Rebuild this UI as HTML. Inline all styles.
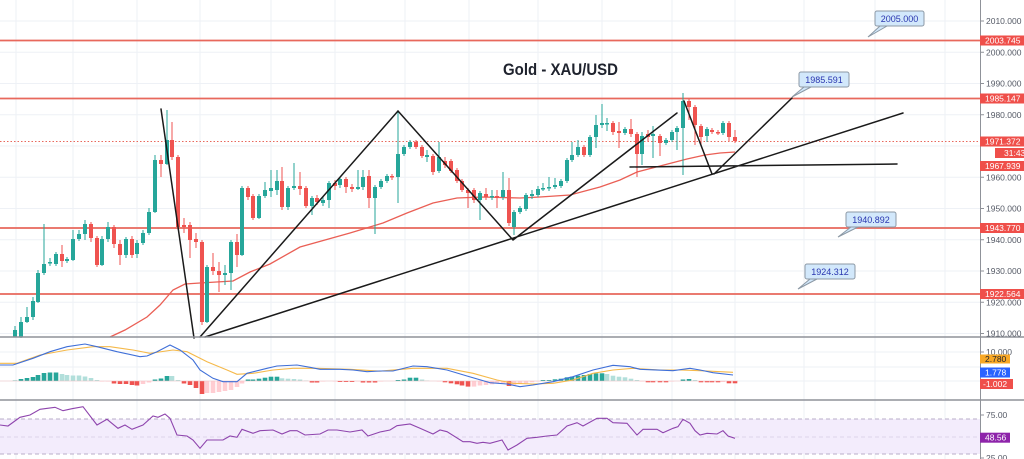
<!DOCTYPE html>
<html><head><meta charset="utf-8"><style>
html,body{margin:0;padding:0;background:#fff;}
body{width:1024px;height:459px;overflow:hidden;}
svg{display:block;font-family:"Liberation Sans",sans-serif;}
</style></head><body>
<svg width="1024" height="459" viewBox="0 0 1024 459" xmlns="http://www.w3.org/2000/svg">
<rect width="1024" height="459" fill="#fff"/>
<!-- grid -->
<g stroke="#eef1f6" stroke-width="1">
<path d="M16 0V459M73 0V459M137 0V459M200 0V459M271 0V459M335 0V459M405 0V459M469 0V459M538 0V459M602 0V459M672 0V459M735 0V459M804 0V459M875 0V459M945 0V459"/>
<path d="M0 21H980M0 52.3H980M0 83.5H980M0 114.8H980M0 146H980M0 177.3H980M0 208.5H980M0 239.8H980M0 271H980M0 302.3H980M0 333.5H980M0 352H980M0 367H980M0 381H980"/>
</g>
<!-- RSI band -->
<rect x="0" y="419" width="980" height="35" fill="#f3ecfc"/>
<g stroke="#b9aec8" stroke-width="1" stroke-dasharray="4 3">
<path d="M0 419H980M0 454H980"/>
</g>
<path d="M0 437H980" stroke="#ddd3ea" stroke-width="1" stroke-dasharray="4 3"/>

<!-- horizontal level lines -->
<g stroke="#e8685c" stroke-width="1.8">
<path d="M0 40.5H980M0 98.5H980M0 228H980M0 294H980"/>
</g>
<path d="M0 141.5H980" stroke="#e8685c" stroke-width="1" stroke-dasharray="1.5 2"/>

<!-- MA -->
<polyline fill="none" stroke="#ea5f55" stroke-width="1.3" points="110,337 125,330 147,317 160,305 173,290 185,284 200,283 233,281 250,272 270,264 300,247 350,233 383,223 407,213 433,203 457,198 483,197 520,198 540,197 570,195 600,187 620,180 637,172 660,166 687,159 705,155 720,153 735,152"/>

<!-- candles green -->
<path fill="none" stroke="#26a69a" stroke-width="1" d="M15 326V337M21 317V338M27 307V323M33 297V320M38 270V303M44 224V275M50 258V266M56 252V266M67 257V263M73 230V261M79 230V241M85 220V240M102 236V266M108 222V242M126 237V258M137 240V258M143 230V245M149 208V235M155 155V213M167 110V165M207 265V323M225 265V285M231 240V290M242 186V256M259 194V219M265 182V198M271 170V197M277 170V195M288 186V210M294 163V190M312 196V215M323 197V206M329 181V208M340 177V188M358 170V190M363 170V190M375 185V234M381 179V189M387 174V183M398 112V203M404 145V156M410 140V149M427 150V162M439 142V173M480 191V220M492 190V200M503 172V200M514 210V235M520 206V214M526 193V211M532 190V199M538 186V197M543 183V191M549 177V191M555 178V189M561 179V188M567 158V183M572 142V162M578 140V157M590 135V157M596 115V148M602 104V128M607 118V131M625 127V135M642 132V165M653 126V158M666 138V145M672 130V142M677 126V150M683 93V175M707 127V142M723 121V135"/>
<g fill="#26a69a">
<rect x="13" y="330" width="4" height="7"/><rect x="19" y="322" width="4" height="15"/><rect x="25" y="317" width="4" height="5"/><rect x="31" y="301" width="4" height="16"/><rect x="36" y="273" width="4" height="29"/><rect x="42" y="264" width="4" height="9"/><rect x="48" y="262" width="4" height="1.5"/><rect x="54" y="254" width="4" height="10"/><rect x="65" y="259" width="4" height="2"/><rect x="71" y="239" width="4" height="21"/><rect x="77" y="234" width="4" height="5"/><rect x="83" y="224" width="4" height="10"/><rect x="100" y="239" width="4" height="26"/><rect x="106" y="227" width="4" height="12"/><rect x="124" y="239" width="4" height="16"/><rect x="135" y="243" width="4" height="11"/><rect x="141" y="233" width="4" height="10"/><rect x="147" y="212" width="4" height="21"/><rect x="153" y="160" width="4" height="52"/><rect x="165" y="140" width="4" height="24"/><rect x="205" y="267" width="4" height="55"/><rect x="223" y="273" width="4" height="2"/><rect x="229" y="242" width="4" height="31"/><rect x="240" y="188" width="4" height="67"/><rect x="257" y="196" width="4" height="22"/><rect x="263" y="190" width="4" height="6"/><rect x="269" y="188" width="4" height="3"/><rect x="275" y="181" width="4" height="9"/><rect x="286" y="188" width="4" height="19"/><rect x="292" y="186" width="4" height="2"/><rect x="310" y="198" width="4" height="8"/><rect x="321" y="200" width="4" height="3"/><rect x="327" y="183" width="4" height="17"/><rect x="338" y="179" width="4" height="6"/><rect x="356" y="187" width="4" height="2"/><rect x="361" y="177" width="4" height="10"/><rect x="373" y="187" width="4" height="11"/><rect x="379" y="181" width="4" height="6"/><rect x="385" y="176" width="4" height="5"/><rect x="396" y="154" width="4" height="23"/><rect x="402" y="147" width="4" height="7"/><rect x="408" y="142" width="4" height="5"/><rect x="425" y="155" width="4" height="2"/><rect x="437" y="157" width="4" height="14"/><rect x="478" y="193" width="4" height="7"/><rect x="490" y="196" width="4" height="1.5"/><rect x="501" y="190" width="4" height="7"/><rect x="512" y="212" width="4" height="15"/><rect x="518" y="208" width="4" height="4"/><rect x="524" y="195" width="4" height="14"/><rect x="530" y="194" width="4" height="2"/><rect x="536" y="189" width="4" height="6"/><rect x="541" y="188" width="4" height="1.5"/><rect x="547" y="187" width="4" height="1.5"/><rect x="553" y="185" width="4" height="2"/><rect x="559" y="181" width="4" height="5"/><rect x="565" y="160" width="4" height="21"/><rect x="570" y="155" width="4" height="5"/><rect x="576" y="147" width="4" height="8"/><rect x="588" y="137" width="4" height="18"/><rect x="594" y="125" width="4" height="12"/><rect x="600" y="123" width="4" height="2"/><rect x="605" y="123" width="4" height="1.5"/><rect x="623" y="129" width="4" height="4"/><rect x="640" y="136" width="4" height="18"/><rect x="651" y="134" width="4" height="2"/><rect x="664" y="140" width="4" height="3"/><rect x="670" y="132" width="4" height="8"/><rect x="675" y="128" width="4" height="4"/><rect x="681" y="101" width="4" height="27"/><rect x="705" y="129" width="4" height="7"/><rect x="721" y="123" width="4" height="10"/>
</g>
<!-- candles red -->
<path fill="none" stroke="#ef5350" stroke-width="1" d="M62 245V267M91 222V242M97 236V267M114 225V248M120 240V265M132 236V258M161 155V177M172 122V160M178 155V230M184 218V233M190 222V258M196 233V248M202 240V325M213 253V275M219 262V292M237 234V267M248 186V200M253 194V220M282 167V210M300 172V195M306 186V208M317 195V205M335 180V190M346 177V193M352 184V192M369 170V208M392 174V180M416 140V149M422 145V158M433 154V175M445 157V168M451 159V173M457 168V183M462 179V192M468 188V208M474 188V203M486 188V200M497 190V208M509 178V226M584 145V157M613 121V135M619 122V148M631 119V137M637 132V177M648 130V142M660 134V156M689 99V120M695 105V145M701 124V145M712 128V134M718 130V135M729 121V141M735 130V143"/>
<g fill="#ef5350">
<rect x="60" y="254" width="4" height="7"/><rect x="89" y="224" width="4" height="14"/><rect x="95" y="238" width="4" height="27"/><rect x="112" y="227" width="4" height="17"/><rect x="118" y="244" width="4" height="11"/><rect x="130" y="239" width="4" height="16"/><rect x="159" y="160" width="4" height="4"/><rect x="170" y="140" width="4" height="17"/><rect x="176" y="157" width="4" height="70"/><rect x="182" y="225" width="4" height="2"/><rect x="188" y="225" width="4" height="15"/><rect x="194" y="239" width="4" height="3"/><rect x="200" y="242" width="4" height="80"/><rect x="211" y="267" width="4" height="4"/><rect x="217" y="271" width="4" height="4"/><rect x="235" y="242" width="4" height="13"/><rect x="246" y="188" width="4" height="9"/><rect x="251" y="196" width="4" height="22"/><rect x="280" y="181" width="4" height="26"/><rect x="298" y="186" width="4" height="3"/><rect x="304" y="188" width="4" height="18"/><rect x="315" y="198" width="4" height="4"/><rect x="333" y="183" width="4" height="3"/><rect x="344" y="179" width="4" height="8"/><rect x="350" y="187" width="4" height="2"/><rect x="367" y="176" width="4" height="22"/><rect x="390" y="176" width="4" height="1.5"/><rect x="414" y="142" width="4" height="5"/><rect x="420" y="147" width="4" height="9"/><rect x="431" y="156" width="4" height="16"/><rect x="443" y="161" width="4" height="4"/><rect x="449" y="161" width="4" height="10"/><rect x="455" y="170" width="4" height="11"/><rect x="460" y="181" width="4" height="9"/><rect x="466" y="190" width="4" height="3"/><rect x="472" y="190" width="4" height="10"/><rect x="484" y="194" width="4" height="3"/><rect x="495" y="196" width="4" height="2"/><rect x="507" y="190" width="4" height="33"/><rect x="582" y="147" width="4" height="8"/><rect x="611" y="123" width="4" height="9"/><rect x="617" y="131" width="4" height="2"/><rect x="629" y="129" width="4" height="5"/><rect x="635" y="134" width="4" height="20"/><rect x="646" y="134" width="4" height="3"/><rect x="658" y="136" width="4" height="7"/><rect x="687" y="101" width="4" height="6"/><rect x="693" y="107" width="4" height="18"/><rect x="699" y="126" width="4" height="11"/><rect x="710" y="130" width="4" height="2"/><rect x="716" y="132" width="4" height="1.5"/><rect x="727" y="123" width="4" height="14"/><rect x="733" y="137" width="4" height="4"/>
</g>

<!-- trend lines -->
<g stroke="#1a1a1a" stroke-width="1.5" fill="none" stroke-linecap="round">
<path d="M161 109L194 338M200 337L398 111L513 240M205 337L903 113M513 240L677 113M684 101L712 174M714 174L792 98M630 167L897 164"/>
</g>

<!-- title -->
<text x="503" y="75" font-size="17" font-weight="bold" fill="#1e222d" textLength="115" lengthAdjust="spacingAndGlyphs">Gold - XAU/USD</text>

<!-- callouts -->
<g font-size="9" fill="#2a36b0">
<polygon points="880,26 887,26 868,37" fill="#d2e8fb" stroke="#8c99a5" stroke-width="1"/>
<rect x="875" y="11" width="49" height="15" rx="2" fill="#d2e8fb" stroke="#8c99a5"/>
<text x="899.5" y="22" text-anchor="middle">2005.000</text>
<polygon points="804,87 811,87 792,97" fill="#d2e8fb" stroke="#8c99a5" stroke-width="1"/>
<rect x="799" y="72" width="50" height="15" rx="2" fill="#d2e8fb" stroke="#8c99a5"/>
<text x="824" y="83" text-anchor="middle">1985.591</text>
<polygon points="851,227 858,227 838,237" fill="#d2e8fb" stroke="#8c99a5" stroke-width="1"/>
<rect x="846" y="212" width="50" height="15" rx="2" fill="#d2e8fb" stroke="#8c99a5"/>
<text x="871" y="223" text-anchor="middle">1940.892</text>
<polygon points="810,279 817,279 798,289" fill="#d2e8fb" stroke="#8c99a5" stroke-width="1"/>
<rect x="805" y="264" width="50" height="15" rx="2" fill="#d2e8fb" stroke="#8c99a5"/>
<text x="830" y="275" text-anchor="middle">1924.312</text>
</g>

<!-- MACD histogram -->
<g fill="#26a69a">
<rect x="12.7" y="380.5" width="4.6" height="0.5"/><rect x="18.7" y="379" width="4.6" height="2"/><rect x="24.7" y="378" width="4.6" height="3"/><rect x="30.7" y="377" width="4.6" height="4"/><rect x="35.7" y="375" width="4.6" height="6"/><rect x="41.7" y="373" width="4.6" height="8"/><rect x="47.7" y="372.5" width="4.6" height="8.5"/><rect x="53.7" y="372.5" width="4.6" height="8.5"/>
<rect x="152.7" y="379.5" width="4.6" height="1.5"/><rect x="158.7" y="378.5" width="4.6" height="2.5"/><rect x="164.7" y="376" width="4.6" height="5"/>
<rect x="245.7" y="379.5" width="4.6" height="1.5"/><rect x="250.7" y="379.5" width="4.6" height="1.5"/><rect x="256.7" y="378.7" width="4.6" height="2.3"/><rect x="262.7" y="377.7" width="4.6" height="3.3"/><rect x="268.7" y="376.7" width="4.6" height="4.3"/><rect x="274.7" y="376.7" width="4.6" height="4.3"/>
<rect x="395.7" y="380" width="4.6" height="1"/><rect x="401.7" y="379.5" width="4.6" height="1.5"/><rect x="407.7" y="377.7" width="4.6" height="3.3"/><rect x="413.7" y="377.7" width="4.6" height="3.3"/>
<rect x="540.7" y="380" width="4.6" height="1"/><rect x="546.7" y="380" width="4.6" height="1"/><rect x="552.7" y="379.3" width="4.6" height="1.7"/><rect x="558.7" y="378.7" width="4.6" height="2.3"/><rect x="564.7" y="377.3" width="4.6" height="3.7"/><rect x="569.7" y="376.7" width="4.6" height="4.3"/><rect x="575.7" y="375.7" width="4.6" height="5.3"/><rect x="581.7" y="375" width="4.6" height="6"/><rect x="587.7" y="374" width="4.6" height="7"/><rect x="593.7" y="373.3" width="4.6" height="7.7"/><rect x="599.7" y="373.3" width="4.6" height="7.7"/>
<rect x="680.7" y="379.5" width="4.6" height="1.5"/><rect x="686.7" y="379" width="4.6" height="2"/>
</g>
<g fill="#b2dfdb">
<rect x="59.7" y="374" width="4.6" height="7"/><rect x="64.7" y="375" width="4.6" height="6"/><rect x="70.7" y="375.5" width="4.6" height="5.5"/><rect x="76.7" y="375.5" width="4.6" height="5.5"/><rect x="82.7" y="376.5" width="4.6" height="4.5"/><rect x="88.7" y="378" width="4.6" height="3"/><rect x="94.7" y="380" width="4.6" height="1"/>
<rect x="169.7" y="376" width="4.6" height="5"/><rect x="175.7" y="380" width="4.6" height="1"/>
<rect x="279.7" y="378.3" width="4.6" height="2.7"/><rect x="285.7" y="378.7" width="4.6" height="2.3"/><rect x="291.7" y="379" width="4.6" height="2"/><rect x="297.7" y="379.5" width="4.6" height="1.5"/><rect x="303.7" y="380.5" width="4.6" height="0.5"/>
<rect x="419.7" y="379.5" width="4.6" height="1.5"/><rect x="424.7" y="380.5" width="4.6" height="0.5"/>
<rect x="604.7" y="374" width="4.6" height="7"/><rect x="610.7" y="375.7" width="4.6" height="5.3"/><rect x="616.7" y="376.7" width="4.6" height="4.3"/><rect x="622.7" y="377.3" width="4.6" height="3.7"/><rect x="628.7" y="378.7" width="4.6" height="2.3"/><rect x="634.7" y="380" width="4.6" height="1"/>
<rect x="692.7" y="380" width="4.6" height="1"/>
</g>
<g fill="#ef5350">
<rect x="111.7" y="381" width="4.6" height="2.5"/><rect x="117.7" y="381" width="4.6" height="3"/><rect x="123.7" y="381" width="4.6" height="3"/><rect x="129.7" y="381" width="4.6" height="4"/><rect x="134.7" y="381" width="4.6" height="4.5"/>
<rect x="181.7" y="381" width="4.6" height="2.5"/><rect x="187.7" y="381" width="4.6" height="4"/><rect x="193.7" y="381" width="4.6" height="7"/><rect x="199.7" y="381" width="4.6" height="13"/>
<rect x="309.7" y="381" width="4.6" height="1.5"/><rect x="314.7" y="381" width="4.6" height="1.5"/>
<rect x="337.7" y="381" width="4.6" height="1"/><rect x="343.7" y="381" width="4.6" height="1"/><rect x="349.7" y="381" width="4.6" height="1"/>
<rect x="360.7" y="381" width="4.6" height="1.5"/><rect x="366.7" y="381" width="4.6" height="1.5"/><rect x="372.7" y="381" width="4.6" height="1.5"/>
<rect x="442.7" y="381" width="4.6" height="1.3"/><rect x="448.7" y="381" width="4.6" height="2.3"/><rect x="454.7" y="381" width="4.6" height="3.3"/><rect x="459.7" y="381" width="4.6" height="4.5"/><rect x="465.7" y="381" width="4.6" height="5.6"/>
<rect x="506.7" y="381" width="4.6" height="5"/>
<rect x="645.7" y="381" width="4.6" height="1.3"/><rect x="650.7" y="381" width="4.6" height="1.3"/><rect x="657.7" y="381" width="4.6" height="1.3"/><rect x="663.7" y="381" width="4.6" height="1.3"/>
<rect x="698.7" y="381" width="4.6" height="1.3"/><rect x="704.7" y="381" width="4.6" height="1.3"/><rect x="709.7" y="381" width="4.6" height="1.3"/><rect x="715.7" y="381" width="4.6" height="1.3"/>
<rect x="726.7" y="381" width="4.6" height="2.3"/><rect x="732.7" y="381" width="4.6" height="2.3"/>
</g>
<g fill="#ffcdd2">
<rect x="99.7" y="381" width="4.6" height="0.5"/><rect x="105.7" y="381" width="4.6" height="0.5"/>
<rect x="140.7" y="381" width="4.6" height="3"/><rect x="146.7" y="381" width="4.6" height="1.5"/>
<rect x="204.7" y="381" width="4.6" height="12"/><rect x="210.7" y="381" width="4.6" height="12"/><rect x="216.7" y="381" width="4.6" height="11"/><rect x="222.7" y="381" width="4.6" height="10"/><rect x="228.7" y="381" width="4.6" height="9"/><rect x="234.7" y="381" width="4.6" height="6"/><rect x="239.7" y="381" width="4.6" height="2.5"/>
<rect x="320.7" y="381" width="4.6" height="0.5"/><rect x="332.7" y="381" width="4.6" height="0.5"/><rect x="355.7" y="381" width="4.6" height="0.5"/>
<rect x="378.7" y="381" width="4.6" height="0.5"/><rect x="436.7" y="381" width="4.6" height="0.5"/>
<rect x="471.7" y="381" width="4.6" height="5.6"/><rect x="477.7" y="381" width="4.6" height="4.5"/><rect x="483.7" y="381" width="4.6" height="4"/><rect x="489.7" y="381" width="4.6" height="3.3"/><rect x="494.7" y="381" width="4.6" height="2.3"/><rect x="500.7" y="381" width="4.6" height="2.3"/>
<rect x="511.7" y="381" width="4.6" height="4"/><rect x="517.7" y="381" width="4.6" height="3"/><rect x="523.7" y="381" width="4.6" height="2.3"/><rect x="529.7" y="381" width="4.6" height="1.3"/><rect x="535.7" y="381" width="4.6" height="0.5"/>
<rect x="639.7" y="381" width="4.6" height="0.5"/><rect x="669.7" y="381" width="4.6" height="0.5"/><rect x="720.7" y="381" width="4.6" height="1"/>
</g>
<path d="M0 381H738" stroke="#f4c0c0" stroke-width="0.6"/>
<!-- MACD lines -->
<polyline fill="none" stroke="#f5b94a" stroke-width="1.1" points="0,363.3 17,363.3 40,355 67,350 93,346.7 110,346.7 133,350 150,353.3 173,350 187,351.7 207,361.7 227,370 237,374.3 253,373.3 273,370 293,368.3 317,368.3 350,369.3 380,371.2 413,368.3 447,368.3 473,373.3 497,380 513,383.3 533,384 553,383.3 573,380 593,373.3 613,370 633,368.3 660,370 680,370 700,370.7 733,372.3"/>
<polyline fill="none" stroke="#3f6fd8" stroke-width="1.1" points="0,365 13,365 33,358.3 50,351.7 67,346.7 85,344 97,346.7 117,351.7 140,356.7 147,356 157,351.7 170,345 180,350 193,360 200,370 213,378.3 223,381.7 237,381.7 247,373.3 267,368.3 277,366 297,365 310,367.3 320,369.3 340,369.3 353,370 367,371.7 380,371 393,371 413,366 427,366.7 447,370 467,376 490,382.7 507,384 520,386.7 533,385 553,381.7 573,376.7 593,370 613,365.3 630,366.7 640,369.3 673,370.7 690,368.3 700,370 713,372.7 733,375"/>

<!-- RSI line -->
<polyline fill="none" stroke="#8e44ad" stroke-width="1.1" points="0,425 8,426 20,417.3 30,415 40,409.3 55,407.3 63,410.7 72,408.7 83,406.7 97,425 107,419.3 118,428.3 125,425 132,429.3 143,425 153,416 158,417.3 165,414 170,418.3 177,435 187,436 193,440 200,448.3 207,440 223,440 230,436 237,437.3 242,429.3 253,433.3 260,430.7 273,430 282,434 290,430.7 297,430.7 305,435 320,434 328,430 337,430 350,432 362,430 368,436 380,432 390,430 397,425.7 410,424 420,428.3 433,434 440,430 447,431.7 463,441.7 470,441.7 477,443.3 483,442.3 490,443.3 502,440 508,450 517,445 527,438.3 537,437.3 547,436 557,435 567,426 577,422.7 583,426 597,418.3 607,418.3 613,422.7 627,423.3 637,435 643,429.3 657,429.3 663,432.7 673,428.3 678,426.7 683,419.3 690,423.3 695,430.7 700,435 707,433.3 717,434 723,430.7 728,436 735,438.3"/>

<!-- panel separators -->
<path d="M0 337H1024M0 400H1024" stroke="#8f9299" stroke-width="1.5"/>
<!-- axis -->
<rect x="980" y="0" width="44" height="459" fill="#fff" opacity="0"/>
<path d="M980.5 0V459" stroke="#8f9299" stroke-width="1"/>
<g stroke="#8f9299" stroke-width="1">
<path d="M981 21H984M981 52.3H984M981 83.5H984M981 114.8H984M981 177.3H984M981 208.5H984M981 239.8H984M981 271H984M981 302.3H984M981 333.5H984M981 352H984M981 415H984M981 458H984"/>
</g>
<g font-size="8.5" fill="#555a66" dominant-baseline="central">
<text x="986" y="21">2010.000</text>
<text x="986" y="52.3">2000.000</text>
<text x="986" y="83.5">1990.000</text>
<text x="986" y="114.8">1980.000</text>
<text x="986" y="177.3">1960.000</text>
<text x="986" y="208.5">1950.000</text>
<text x="986" y="239.8">1940.000</text>
<text x="986" y="271">1930.000</text>
<text x="986" y="302.3">1920.000</text>
<text x="986" y="333.5">1910.000</text>
<text x="986" y="352">10.000</text>
<text x="986" y="415">75.00</text>
<text x="986" y="458">25.00</text>
</g>
<!-- price labels -->
<g fill="#ef4f4a">
<rect x="980" y="35.5" width="44" height="10"/>
<rect x="980" y="93.5" width="44" height="10"/>
<rect x="980" y="136.5" width="44" height="10"/>
<rect x="995" y="148" width="29" height="10"/>
<rect x="980" y="161" width="44" height="10"/>
<rect x="980" y="223" width="44" height="10"/>
<rect x="980" y="289" width="44" height="10"/>
<rect x="980" y="379" width="33" height="10"/>
</g>
<rect x="980" y="354.5" width="30" height="9" fill="#f9a825"/>
<rect x="980" y="367.5" width="30" height="10" fill="#2962ff"/>
<rect x="980" y="432.7" width="30" height="10" fill="#8e24aa"/>
<g font-size="8.5" fill="#fff" dominant-baseline="central">
<text x="985" y="40.5">2003.745</text>
<text x="985" y="98.5">1985.147</text>
<text x="985" y="141.5">1971.372</text>
<text x="1004" y="153">31:43</text>
<text x="985" y="166">1967.939</text>
<text x="985" y="228">1943.770</text>
<text x="985" y="294">1922.564</text>
<text x="985" y="372.5">1.778</text>
<text x="983" y="384">-1.002</text>
<text x="985" y="437.7">48.56</text>
</g>
<text x="985" y="359" font-size="8.5" fill="#1e222d" dominant-baseline="central">2.780</text>
</svg>
</body></html>
